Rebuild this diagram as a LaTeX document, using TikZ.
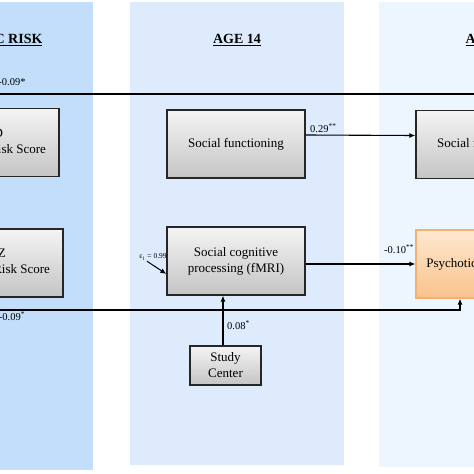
\documentclass[tikz,border=0pt]{standalone}
\usepackage{fontspec}
\setmainfont{Liberation Serif}
\usetikzlibrary{arrows.meta, positioning, calc}
\definecolor{colgene}{RGB}{194,222,251}
\definecolor{colmid}{RGB}{221,235,252}
\definecolor{colend}{RGB}{237,245,254}
\definecolor{boxtop}{RGB}{244,244,244}
\definecolor{boxbot}{RGB}{196,196,196}
\definecolor{psytop}{RGB}{254,232,208}
\definecolor{psybot}{RGB}{249,194,140}
\definecolor{psyline}{RGB}{243,176,112}

\tikzset{
  varbox/.style={draw=black!85, line width=1.3pt, top color=boxtop, bottom color=boxbot,
    minimum width=138pt, minimum height=68pt, align=center, font=\fontsize{13}{16}\selectfont},
  outbox/.style={varbox, draw=psyline, top color=psytop, bottom color=psybot},
  coef/.style={font=\fontsize{10.5}{12}\selectfont, inner sep=1pt},
  title/.style={font=\fontsize{14}{16}\selectfont\bfseries},
  path/.style={line width=1.1pt, -{Latex[length=6pt,width=5pt]}}
}

\begin{document}
\begin{tikzpicture}[x=1pt, y=-1pt]
  \path[use as bounding box, clip] (0,0) rectangle (474,474);
  \fill[white] (0,0) rectangle (474,474);
  % time columns
  \fill[colgene] (-121,2) rectangle (93,470);
  \fill[colmid]  (130,2) rectangle (344,465);
  \fill[colend]  (379,2) rectangle (593,467);
  \node[title, anchor=east] (tgen) at (46,40) {\underline{GENETIC RISK}};
  \node[title] (t14)  at (237,40) {\underline{AGE 14}};
  \node[title, anchor=west] (t24)  at (462,40) {\underline{AGE 24}};

  % variables
  \node[varbox] (asd)   at (-10,142.5) {ASD\\Polygenic Risk Score};
  \node[varbox] (scz)   at (-6,263) {SCZ\\Polygenic Risk Score};
  \node[varbox] (sf14)  at (236,144) {Social functioning};
  \node[varbox] (scp)   at (236,261) {Social cognitive\\processing (fMRI)};
  \node[varbox, minimum width=71pt, minimum height=39pt] (study) at (225.5,365.5) {Study\\Center};
  \node[varbox] (sf24)  at (485,144.5) {Social functioning};
  \node[outbox] (psy)   at (485,264) {Psychotic Experiences};

  % paths
  \coordinate (topL) at (-130,94);
  \coordinate (topR) at (600,94);
  \draw[line width=1.1pt] (topL) -- (topR);
  \node[coef] (ctop) at (12,82) {-0.09*};

  \draw[path] ([yshift=9pt]sf14.east) -- ([yshift=9pt]sf24.west);
  \node[coef, anchor=west] (c29) at (309,128) {0.29\textsuperscript{**}};

  \draw[path] (scp.east |- psy.west) -- (psy.west);
  \node[coef, anchor=west] (c10) at (383,249) {-0.10\textsuperscript{**}};

  \draw[path] ([xshift=-2.5pt]study.north) -- ([xshift=-2.5pt]study.north |- scp.south);
  \node[coef, anchor=west] (c08) at (226,325) {0.08\textsuperscript{*}};

  \coordinate (botL) at (-130,310);
  \coordinate (botR) at (460,310);
  \draw[path] (botL) -- (botR) -- ([xshift=-25pt]psy.south);
  \node[coef] (cbot) at (12,316) {-0.09\textsuperscript{*}};

  \node[coef, font=\fontsize{7.5}{8}\selectfont] (eps) at (153,257) {ε\textsubscript{1} = 0.99};
  \draw[path, line width=1pt] ([xshift=-6pt]eps.south) -- ([yshift=-13pt]scp.west);
\end{tikzpicture}
\end{document}
